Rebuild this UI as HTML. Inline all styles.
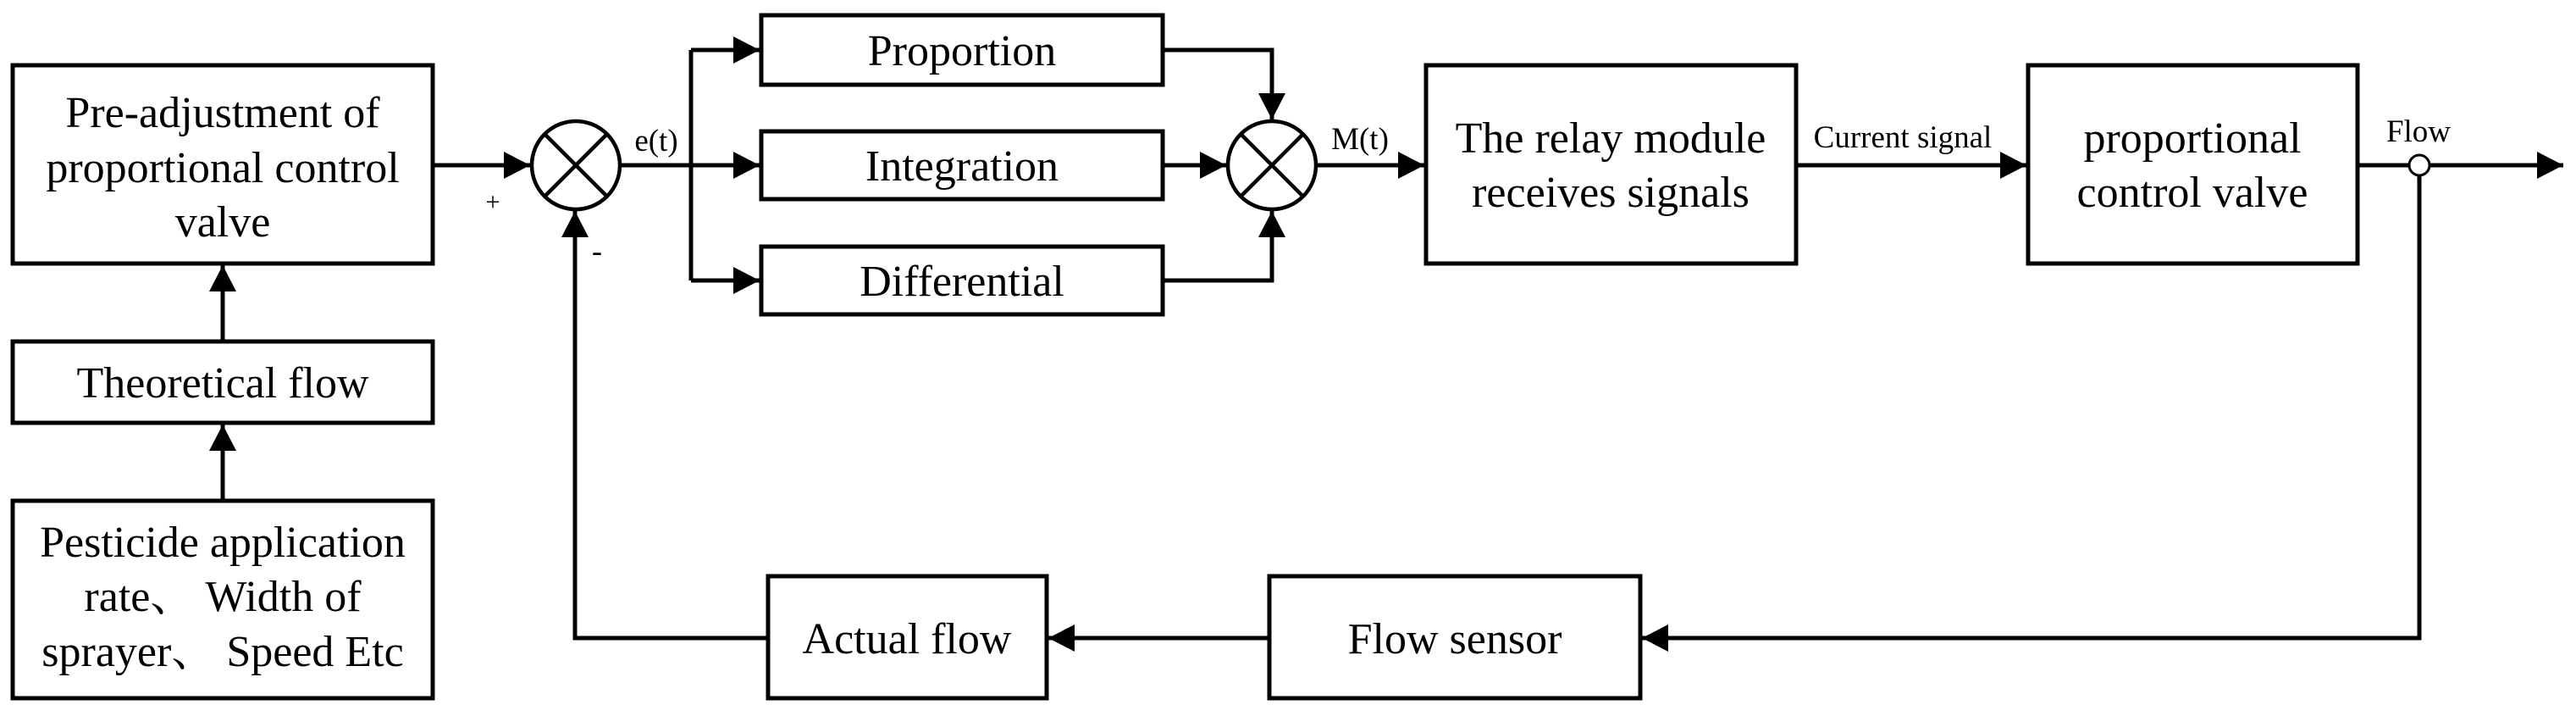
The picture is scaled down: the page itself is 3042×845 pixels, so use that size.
<!DOCTYPE html>
<html><head><meta charset="utf-8"><style>
html,body{margin:0;padding:0;background:#fff;}
svg{display:block;}
text{font-family:"Liberation Serif","Noto Serif CJK SC",serif;fill:#000;}
</style></head><body>
<svg width="3042" height="845" viewBox="0 0 3042 845" xmlns="http://www.w3.org/2000/svg">
<defs>
<marker id="a" markerWidth="32" markerHeight="32" refX="31" refY="16" markerUnits="userSpaceOnUse" orient="auto">
<path d="M0,0 L31,16 L0,32 Z" fill="#000"/></marker>
</defs>
<g fill="none" stroke="#000" stroke-width="5">
<rect x="15" y="77" width="496" height="234"/>
<rect x="15" y="403" width="496" height="96"/>
<rect x="15" y="591" width="496" height="233"/>
<rect x="899" y="18" width="474" height="82"/>
<rect x="899" y="155" width="474" height="80"/>
<rect x="899" y="291" width="474" height="80"/>
<rect x="1684" y="77" width="437" height="234"/>
<rect x="2395" y="77" width="389" height="234"/>
<rect x="1499" y="680" width="438" height="144"/>
<rect x="907" y="680" width="329" height="144"/>
</g>
<g fill="none" stroke="#000" stroke-width="4.5">
<circle cx="680" cy="195" r="52"/>
<line x1="643" y1="158" x2="717" y2="232"/>
<line x1="717" y1="158" x2="643" y2="232"/>
<circle cx="1502" cy="195" r="52"/>
<line x1="1465" y1="158" x2="1539" y2="232"/>
<line x1="1539" y1="158" x2="1465" y2="232"/>
</g>
<g fill="none" stroke="#000" stroke-width="5">
<line x1="263" y1="403" x2="263" y2="313" marker-end="url(#a)"/>
<line x1="263" y1="591" x2="263" y2="501" marker-end="url(#a)"/>
<line x1="511" y1="195" x2="626" y2="195" marker-end="url(#a)"/>
<polyline points="907,753 679,753 679,249" marker-end="url(#a)"/>
<line x1="732" y1="195" x2="816" y2="195"/>
<polyline points="816,59 816,331"/>
<line x1="816" y1="59" x2="897" y2="59" marker-end="url(#a)"/>
<line x1="816" y1="195" x2="897" y2="195" marker-end="url(#a)"/>
<line x1="816" y1="331" x2="897" y2="331" marker-end="url(#a)"/>
<polyline points="1373,59 1502,59 1502,141" marker-end="url(#a)"/>
<line x1="1373" y1="195" x2="1448" y2="195" marker-end="url(#a)"/>
<polyline points="1373,331 1502,331 1502,249" marker-end="url(#a)"/>
<line x1="1554" y1="195" x2="1682" y2="195" marker-end="url(#a)"/>
<line x1="2121" y1="195" x2="2393" y2="195" marker-end="url(#a)"/>
<line x1="2784" y1="195" x2="2845" y2="195"/>
<line x1="2869" y1="195" x2="3027" y2="195" marker-end="url(#a)"/>
<polyline points="2857,207 2857,753 1939,753" marker-end="url(#a)"/>
<line x1="1499" y1="753" x2="1238" y2="753" marker-end="url(#a)"/>
</g>
<circle cx="2857" cy="195" r="12" fill="#fff" stroke="#000" stroke-width="3"/>
<g font-size="52" text-anchor="middle">
<text x="263" y="150">Pre-adjustment of</text>
<text x="263" y="215">proportional control</text>
<text x="263" y="279">valve</text>
<text x="263" y="469">Theoretical flow</text>
<text x="263" y="657">Pesticide application</text>
<text x="263" y="721">rate、 Width of</text>
<text x="263" y="786">sprayer、 Speed Etc</text>
<text x="1136" y="77">Proportion</text>
<text x="1136" y="213">Integration</text>
<text x="1136" y="349">Differential</text>
<text x="1902" y="180">The relay module</text>
<text x="1902" y="244">receives signals</text>
<text x="2589" y="180">proportional</text>
<text x="2589" y="244">control valve</text>
<text x="1718" y="771">Flow sensor</text>
<text x="1071" y="771">Actual flow</text>
</g>
<g font-size="37" text-anchor="middle">
<text x="775" y="178">e(t)</text>
<text x="1606" y="176">M(t)</text>
<text x="2247" y="174">Current signal</text>
<text x="2856" y="167">Flow</text>
<text x="582" y="248" font-size="30">+</text>
<text x="705" y="308" font-size="36">-</text>
</g>
</svg>
</body></html>
